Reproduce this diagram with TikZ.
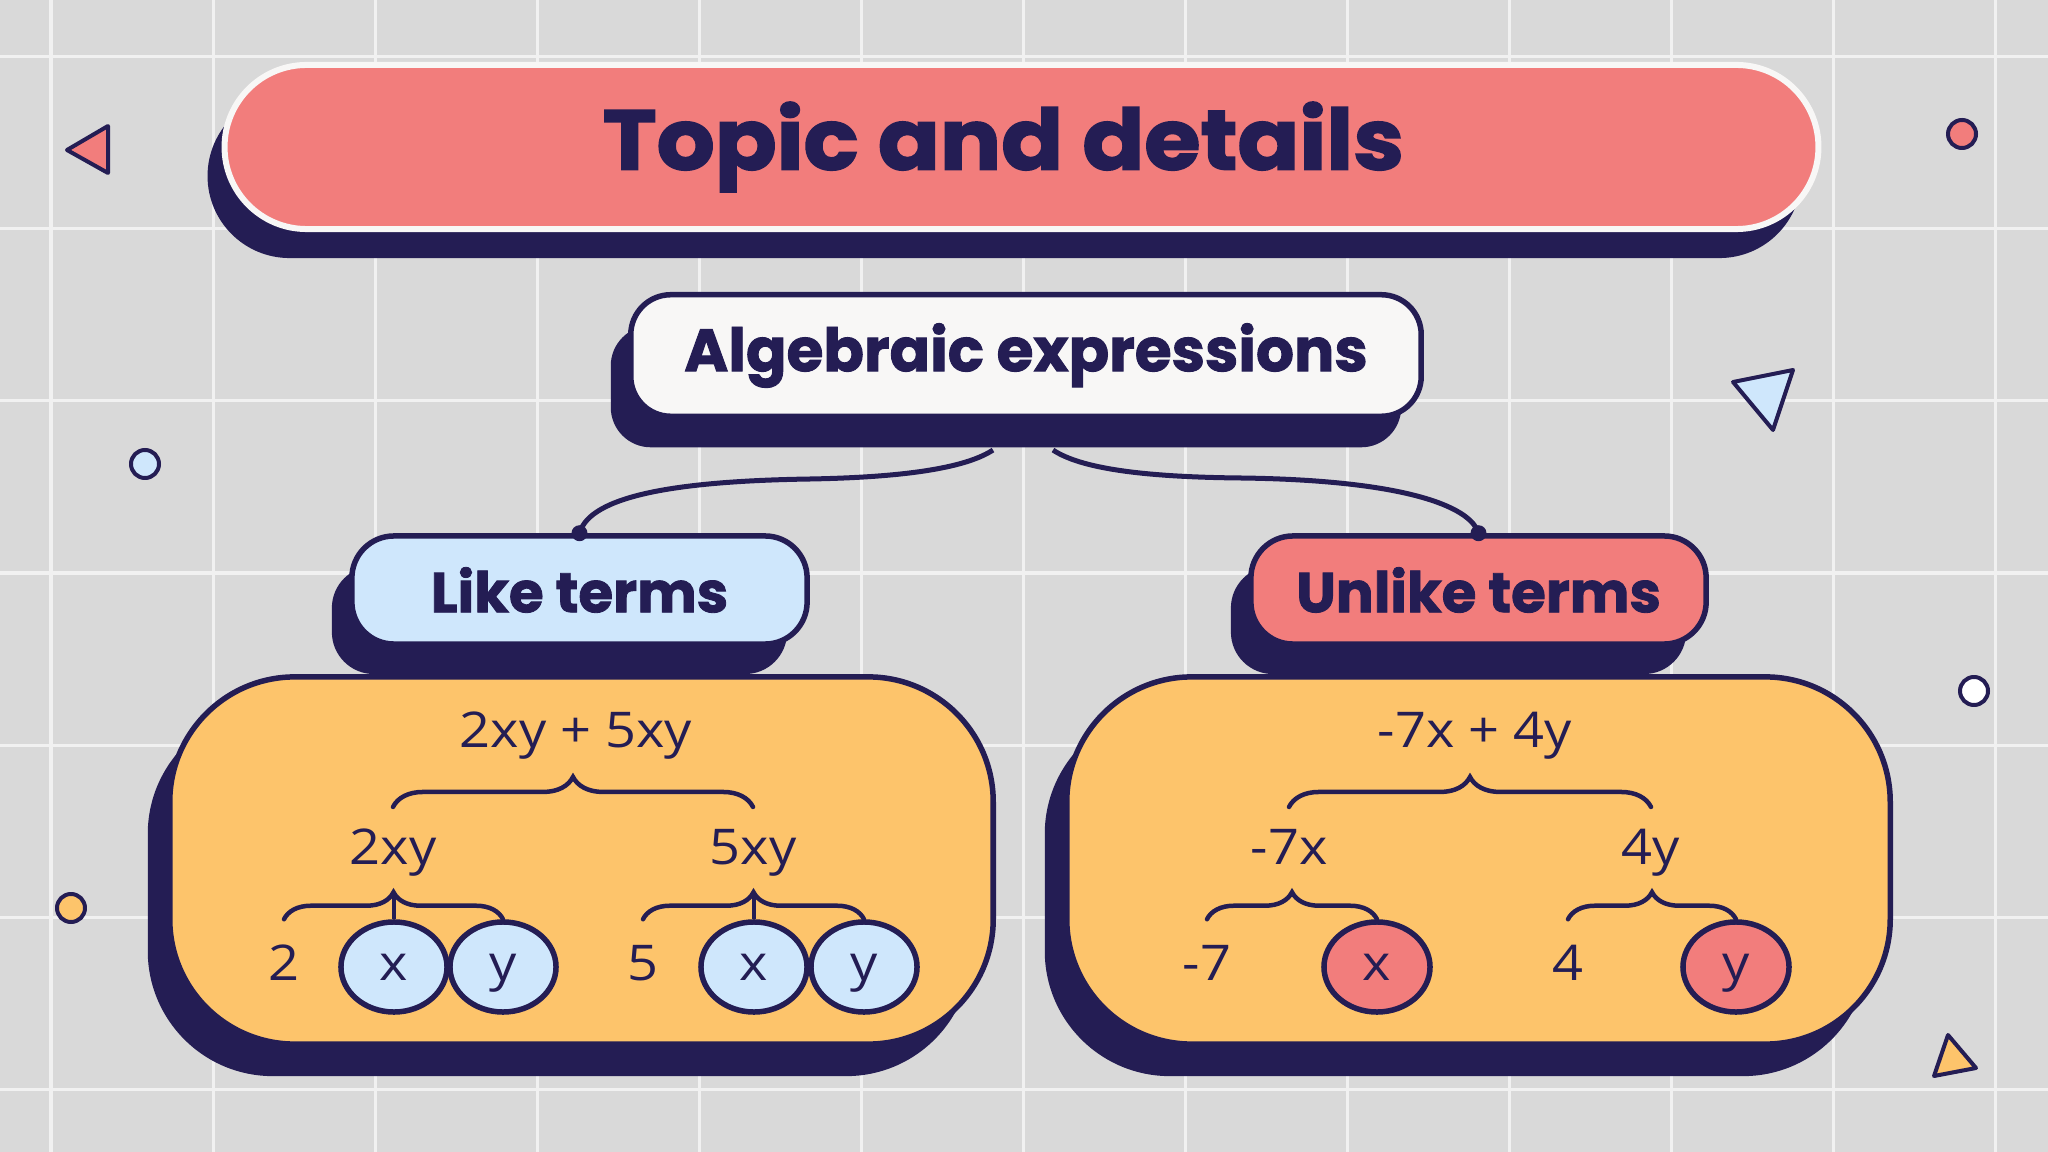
\documentclass[tikz,border=0pt]{standalone}
\usepackage{fontspec}
\setmainfont{Open Sans}
\newfontfamily\headfont{Poppins}[BoldFeatures={FakeBold=1.5}]
\newfontfamily\titlefont{Poppins}[FakeStretch=1.08, BoldFeatures={FakeBold=2}]
\newfontfamily\exprfont{Open Sans}[FakeStretch=1.1]
\usetikzlibrary{positioning, shapes.geometric, shadows, decorations.pathreplacing}

\definecolor{navy}{HTML}{241D54}
\definecolor{salmon}{HTML}{F27D7C}
\definecolor{skyblue}{HTML}{CFE7FC}
\definecolor{mango}{HTML}{FDC46B}
\definecolor{paper}{HTML}{D9D9D9}
\definecolor{gridline}{HTML}{F1F1F1}
\definecolor{snow}{HTML}{F8F7F6}

\pgfdeclarelayer{grid}
\pgfdeclarelayer{back}
\pgfsetlayers{grid,back,main}

\begin{document}
\begin{tikzpicture}[
    x=0.01cm, y=-0.01cm,
    titlebar/.style={rectangle, rounded corners=0.82cm, draw=snow, line width=0.06cm, fill=salmon, minimum width=15.93cm, minimum height=1.64cm, text=navy, font=\titlefont\bfseries\fontsize{24}{28}\selectfont, general shadow={fill=navy, shadow xshift=-0.17cm, shadow yshift=-0.29cm}},
    topicbox/.style={rectangle, rounded corners=0.4cm, draw=navy, line width=0.055cm, fill=snow, minimum width=7.9cm, minimum height=1.215cm, text=navy, font=\headfont\bfseries\fontsize{17}{20}\selectfont, general shadow={fill=navy, shadow xshift=-0.2cm, shadow yshift=-0.31cm}},
    termbox/.style={rectangle, rounded corners=0.42cm, draw=navy, line width=0.055cm, minimum width=4.55cm, minimum height=1.08cm, text=navy, font=\headfont\bfseries\fontsize{16}{19}\selectfont, general shadow={fill=navy, shadow xshift=-0.2cm, shadow yshift=-0.3cm}},
    groupbox/.style={rectangle, rounded corners=1.25cm, draw=navy, line width=0.055cm, fill=mango, minimum width=8.23cm, minimum height=3.67cm, general shadow={fill=navy, shadow xshift=-0.22cm, shadow yshift=-0.32cm}},
    expr/.style={anchor=base, text=navy, inner sep=0pt, font=\exprfont\fontsize{14}{17}\selectfont},
    varball/.style={ellipse, draw=navy, line width=0.055cm, minimum width=1.06cm, minimum height=0.9cm, inner sep=0pt, text=navy, font=\exprfont\fontsize{14}{17}\selectfont, text height=1.4ex, text depth=0pt},
    link/.style={draw=navy, line width=0.05cm},
    brc/.style={draw=navy, line width=0.045cm, line cap=round, decorate, decoration={brace, amplitude=#1}},
    stem/.style={draw=navy, line width=0.045cm},
    deco/.style={draw=navy, line width=0.04cm, line join=round},
]
    \useasboundingbox (0,0) rectangle (2048,1152);

    % background grid
    \begin{pgfonlayer}{grid}
        \fill[paper] (0,0) rectangle (2048,1152);
        \foreach \gx in {51,213,...,1995}
            \draw[gridline, line width=0.03cm] (\gx,0) -- (\gx,1152);
        \foreach \gy in {57,229,...,1089}
            \draw[gridline, line width=0.03cm] (0,\gy) -- (2048,\gy);
    \end{pgfonlayer}

    % little shapes round the edges
    \filldraw[deco, fill=salmon] (67,150) -- (108,126) -- (108,173) -- cycle;
    \filldraw[deco, fill=skyblue] (1733,382) -- (1793,370) -- (1773,430) -- cycle;
    \filldraw[deco, fill=mango] (1948,1035) -- (1976,1068) -- (1934,1076) -- cycle;
    \filldraw[deco, fill=skyblue] (145,464) circle (0.14cm);
    \filldraw[deco, fill=mango] (71,908) circle (0.14cm);
    \filldraw[deco, fill=salmon] (1962,134) circle (0.14cm);
    \filldraw[deco, fill=white] (1974,691) circle (0.14cm);

    % headings
    \node[titlebar] (title) at (1021.5,147) {\hspace*{-0.36cm}Topic and details};
    \node[topicbox] (alg) at (1026,355.5) {Algebraic expressions};
    \node[termbox, fill=skyblue] (like) at (579.5,590) {Like terms};
    \node[termbox, fill=salmon, right=4.38cm of like] (unlike) {Unlike terms};

    \begin{pgfonlayer}{back}
        \draw[link] ([shift={(-33,31)}]alg.south) .. controls (970,465) and (920,477) .. (810,479)
            .. controls (680,481) and (590,495) .. (like.north);
        \draw[link] ([shift={(27,31)}]alg.south) .. controls (1080,468) and (1140,477) .. (1241,478)
            .. controls (1400,480) and (1470,505) .. (unlike.north);
    \end{pgfonlayer}
    \fill[navy] (like.north) circle (0.08cm);
    \fill[navy] (unlike.north) circle (0.08cm);

    \node[groupbox] (likebox) at (581.5,860.5) {};
    \node[groupbox] (unlikebox) at (1478.5,860.5) {};

    % like terms
    \node[expr] (likesum) at (576,747) {2xy + 5xy};
    \node[expr] (twoxy) at (393,864) {2xy};
    \node[expr] (fivexy) at (753,864) {5xy};
    \node[expr] (two) at (284,980) {2};
    \node[varball, fill=skyblue] (xA) at (394,967) {x};
    \node[varball, fill=skyblue] (yA) at (503,967) {y};
    \node[expr] (five) at (643,980) {5};
    \node[varball, fill=skyblue] (xB) at (754,967) {x};
    \node[varball, fill=skyblue] (yB) at (864,967) {y};

    \draw[brc=0.3cm] ([yshift=0.57cm]twoxy.base) -- ([yshift=0.57cm]fivexy.base);
    \draw[brc=0.27cm] (two |- yA.north) -- (yA.north);
    \draw[brc=0.27cm] (five |- yB.north) -- (yB.north);
    \draw[stem] (xA.north) -- ++(0,-26);
    \draw[stem] (xB.north) -- ++(0,-26);

    % unlike terms
    \node[expr] (unlikesum) at (1475,747) {-7x + 4y};
    \node[expr] (negsevx) at (1289,864) {-7x};
    \node[expr] (foury) at (1651,864) {4y};
    \node[expr] (negsev) at (1207,980) {-7};
    \node[varball, fill=salmon] (xC) at (1377,967) {x};
    \node[expr] (four) at (1568,980) {4};
    \node[varball, fill=salmon] (yC) at (1736,967) {y};

    \draw[brc=0.3cm] ([yshift=0.57cm]negsevx.base) -- ([yshift=0.57cm]foury.base);
    \draw[brc=0.27cm] (negsev |- xC.north) -- (xC.north);
    \draw[brc=0.27cm] (four |- yC.north) -- (yC.north);
\end{tikzpicture}
\end{document}
